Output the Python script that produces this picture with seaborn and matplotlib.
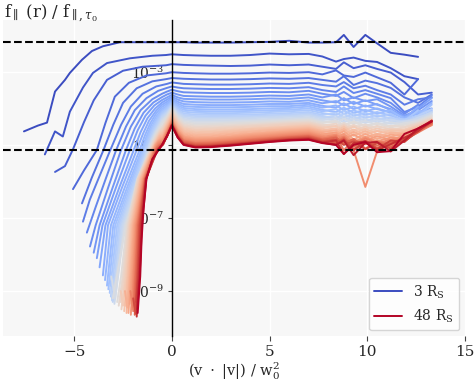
import numpy as np
import pandas as pd
import matplotlib
matplotlib.use('Agg')
import matplotlib.pyplot as plt
from matplotlib.lines import Line2D
from matplotlib.ticker import NullLocator
import seaborn as sns

sns.set_style("whitegrid", {'axes.facecolor': '#f7f7f7', 'grid.color': 'white'})
plt.rcParams['font.family'] = 'serif'
plt.rcParams['font.serif'] = ['DejaVu Serif']
plt.rcParams['mathtext.fontset'] = 'dejavuserif'

nan = np.nan

# radii of the profiles (in R_S)
radii = list(range(3, 49))

# dashed reference levels (log10)
ref_levels = [-2.19, -5.14]

# positive side: shared v|v|/w0^2 grid
pos_x = [0.0, 0.3, 0.6, 1.2, 2.0, 3.0, 4.0, 5.0, 6.0, 7.0, 7.7, 8.4, 8.8, 9.3, 9.9, 10.5, 11.2, 11.9, 12.6, 13.3]

# log10 f on the positive side, one row per radius
pos_logf = [
    [-2.19, -2.19, -2.19, -2.20, -2.20, -2.20, -2.19, -2.18, -2.15, -2.20, -2.20, -2.19, -1.99, -2.32, -1.99, -2.22, -2.48, -2.53, -2.59, nan],
    [-2.52, -2.53, -2.54, -2.55, -2.56, -2.56, -2.54, -2.50, -2.52, -2.51, -2.58, -2.72, -2.65, -2.61, -2.70, -2.73, -2.90, -3.12, -3.20, nan],
    [-2.79, -2.80, -2.81, -2.82, -2.83, -2.84, -2.83, -2.80, -2.82, -2.80, -2.86, -2.92, -2.74, -2.90, -2.82, -2.92, -3.02, -3.28, -3.62, -3.57],
    [-3.01, -3.02, -3.03, -3.04, -3.05, -3.05, -3.04, -3.02, -3.03, -3.01, -3.07, -2.96, -3.10, -3.14, -3.02, -3.15, -3.30, -3.62, -3.20, nan],
    [-3.17, -3.18, -3.19, -3.20, -3.21, -3.21, -3.20, -3.18, -3.19, -3.17, -3.22, -3.27, -3.12, -3.36, -3.24, -3.31, -3.44, -3.70, -3.85, -3.62],
    [-3.29, -3.31, -3.33, -3.34, -3.35, -3.35, -3.34, -3.32, -3.33, -3.30, -3.36, -3.40, -3.28, -3.45, -3.38, -3.50, -3.62, -3.90, -3.75, -3.70],
    [-3.40, -3.43, -3.45, -3.46, -3.47, -3.47, -3.46, -3.44, -3.45, -3.42, -3.50, -3.55, -3.40, -3.58, -3.50, -3.60, -3.72, -4.10, -3.95, -3.65],
    [-3.49, -3.53, -3.56, -3.57, -3.58, -3.58, -3.57, -3.55, -3.56, -3.52, -3.60, -3.66, -3.55, -3.72, -3.60, -3.70, -3.85, -4.15, -3.90, nan],
    [-3.57, -3.62, -3.66, -3.67, -3.68, -3.68, -3.67, -3.65, -3.66, -3.62, -3.70, -3.62, -3.78, -3.70, -3.80, -3.75, -3.95, -4.20, -4.05, -3.80],
    [-3.63, -3.70, -3.74, -3.75, -3.76, -3.76, -3.75, -3.73, -3.74, -3.70, -3.78, -3.84, -3.72, -3.88, -3.78, -3.90, -4.02, -4.25, -4.00, -3.72],
    [-3.68, -3.76, -3.81, -3.83, -3.84, -3.84, -3.83, -3.81, -3.82, -3.78, -3.86, -3.80, -3.92, -3.82, -3.95, -3.88, -4.05, -4.22, -4.10, -4.00],
    [-3.72, -3.82, -3.88, -3.90, -3.91, -3.91, -3.90, -3.88, -3.88, -3.85, -3.93, -3.98, -3.86, -4.02, -3.92, -4.02, -4.10, -4.28, -3.95, nan],
    [-3.76, -3.87, -3.94, -3.96, -3.97, -3.97, -3.96, -3.94, -3.94, -3.90, -3.98, -3.92, -4.05, -3.95, -4.08, -4.00, -4.12, -4.25, -4.15, -3.85],
    [-3.80, -3.92, -3.99, -4.02, -4.03, -4.03, -4.02, -4.00, -3.99, -3.95, -4.04, -4.10, -3.98, -4.12, -4.04, -4.14, -4.05, -4.30, -4.10, -4.05],
    [-3.83, -3.96, -4.04, -4.07, -4.08, -4.08, -4.07, -4.05, -4.04, -4.00, -4.08, -4.02, -4.15, -4.05, -4.18, -4.10, -4.20, -4.32, -4.20, -3.90],
    [-3.86, -4.00, -4.09, -4.12, -4.13, -4.13, -4.12, -4.10, -4.08, -4.05, -4.13, -4.18, -4.06, -4.20, -4.12, -4.22, -4.15, -4.35, -4.05, nan],
    [-3.89, -4.04, -4.14, -4.17, -4.18, -4.18, -4.17, -4.15, -4.13, -4.10, -4.18, -4.12, -4.24, -4.14, -4.26, -4.18, -4.28, -4.30, -4.22, -4.08],
    [-3.91, -4.07, -4.18, -4.21, -4.22, -4.22, -4.21, -4.19, -4.17, -4.14, -4.22, -4.27, -4.15, -4.28, -4.20, -4.30, -4.24, -4.38, -4.20, -4.02],
    [-3.93, -4.11, -4.21, -4.25, -4.26, -4.25, -4.24, -4.22, -4.20, -4.17, -4.25, -4.20, -4.32, -4.22, -4.34, -4.26, -4.35, -4.34, -4.28, -4.10],
    [-3.95, -4.14, -4.25, -4.29, -4.29, -4.28, -4.27, -4.25, -4.23, -4.20, -4.28, -4.33, -4.22, -4.36, -4.28, -4.38, -4.30, -4.40, -4.25, -4.12],
    [-3.97, -4.17, -4.29, -4.33, -4.33, -4.32, -4.31, -4.29, -4.27, -4.24, -4.32, -4.26, -4.38, -4.28, -4.40, -4.32, -4.42, -4.36, -4.30, -4.15],
    [-3.99, -4.20, -4.32, -4.37, -4.37, -4.36, -4.34, -4.32, -4.30, -4.27, -4.35, -4.40, -4.28, -4.42, -4.34, -4.45, -4.38, -4.44, -4.32, -4.18],
    [-4.01, -4.23, -4.36, -4.41, -4.41, -4.39, -4.37, -4.35, -4.33, -4.30, -4.38, -4.33, -4.45, -4.35, -4.47, -4.40, -4.48, -4.40, -4.35, -4.20],
    [-4.03, -4.26, -4.40, -4.45, -4.44, -4.42, -4.40, -4.38, -4.35, -4.32, -4.40, -4.36, -4.48, -4.38, -4.50, -4.42, -4.52, -4.45, -4.38, -4.22],
    [-4.06, -4.30, -4.44, -4.49, -4.48, -4.46, -4.44, -4.41, -4.38, -4.36, -4.44, -4.50, -4.40, -4.52, -4.44, -4.55, -4.48, -4.50, -4.40, -4.25],
    [-4.09, -4.33, -4.48, -4.53, -4.52, -4.50, -4.47, -4.44, -4.41, -4.39, -4.47, -4.42, -4.55, -4.45, -4.58, -4.48, -4.58, -4.52, -4.42, -4.28],
    [-4.12, -4.37, -4.52, -4.57, -4.56, -4.53, -4.50, -4.47, -4.44, -4.42, -4.50, -4.56, -4.45, -4.60, -4.50, -4.62, -4.55, -4.58, -4.45, -4.30],
    [-4.15, -4.40, -4.55, -4.61, -4.60, -4.57, -4.54, -4.51, -4.48, -4.45, -4.53, -4.48, -4.62, -4.50, -4.65, -4.55, -4.64, -4.58, -4.48, -4.32],
    [-4.18, -4.44, -4.59, -4.65, -4.64, -4.61, -4.57, -4.54, -4.51, -4.48, -4.56, -4.62, -4.50, -4.68, -4.56, -4.70, -4.60, -4.62, -4.50, -4.34],
    [-4.21, -4.47, -4.63, -4.69, -4.68, -4.64, -4.61, -4.57, -4.54, -4.51, -4.60, -4.55, -4.70, -4.58, -4.72, -4.62, -4.70, -4.64, -4.52, -4.36],
    [-4.24, -4.51, -4.67, -4.73, -4.72, -4.68, -4.64, -4.60, -4.57, -4.54, -4.62, -4.68, -4.56, -4.75, -4.62, -4.78, -4.66, -4.70, -4.55, -4.38],
    [-4.27, -4.55, -4.71, -4.77, -4.76, -4.72, -4.68, -4.64, -4.60, -4.57, -4.65, -4.60, -4.78, -4.64, -4.80, -4.70, -4.78, -4.68, -4.56, -4.40],
    [-4.31, -4.59, -4.75, -4.81, -4.80, -4.76, -4.71, -4.67, -4.63, -4.60, -4.68, -4.74, -4.62, -4.85, -4.70, -4.84, -4.72, -4.76, -4.58, -4.42],
    [-4.32, -4.61, -4.78, -4.84, -4.83, -4.79, -4.74, -4.70, -4.66, -4.63, -4.72, -4.66, -4.84, -4.72, -4.88, -4.76, -4.86, -4.74, -4.60, -4.44],
    [-4.34, -4.63, -4.81, -4.87, -4.86, -4.82, -4.77, -4.73, -4.69, -4.66, -4.75, -4.80, -4.70, -4.92, -4.78, -4.90, -4.80, -4.82, -4.62, -4.46],
    [-4.36, -4.66, -4.84, -4.90, -4.89, -4.85, -4.80, -4.76, -4.72, -4.69, -4.78, -4.72, -4.88, -5.15, -6.15, -5.18, -4.94, -4.80, -4.64, -4.40],
    [-4.39, -4.69, -4.87, -4.93, -4.92, -4.88, -4.83, -4.79, -4.75, -4.72, -4.80, -4.86, -4.76, -4.98, -4.82, -4.95, -4.86, -4.85, -4.66, -4.45],
    [-4.40, -4.70, -4.88, -4.95, -4.94, -4.90, -4.85, -4.81, -4.77, -4.74, -4.83, -4.76, -5.15, -4.85, -4.98, -4.90, -5.00, -4.82, -4.62, -4.42],
    [-4.42, -4.72, -4.90, -4.97, -4.96, -4.92, -4.87, -4.83, -4.79, -4.76, -4.85, -4.92, -4.80, -5.05, -4.88, -5.02, -4.90, -4.88, -4.65, -4.38],
    [-4.43, -4.74, -4.92, -4.99, -4.98, -4.94, -4.89, -4.85, -4.80, -4.77, -4.86, -4.80, -4.95, -4.84, -5.10, -4.92, -5.05, -4.86, -4.60, -4.40],
    [-4.44, -4.75, -4.94, -5.01, -5.00, -4.96, -4.91, -4.86, -4.82, -4.79, -4.88, -4.94, -4.84, -5.12, -4.90, -5.08, -4.95, -4.90, -4.62, -4.36],
    [-4.45, -4.77, -4.96, -5.03, -5.02, -4.98, -4.93, -4.88, -4.84, -4.81, -4.90, -4.85, -5.00, -4.90, -5.12, -4.95, -5.10, -4.85, -4.58, -4.35],
    [-4.46, -4.78, -4.97, -5.04, -5.03, -4.99, -4.94, -4.89, -4.85, -4.82, -4.92, -4.98, -4.86, -5.15, -4.92, -5.12, -4.88, -4.92, -4.60, -4.33],
    [-4.46, -4.78, -4.98, -5.05, -5.04, -5.00, -4.95, -4.90, -4.86, -4.84, -4.93, -4.88, -5.25, -4.95, -4.90, -5.15, -4.98, -4.80, -4.62, -4.35],
    [-4.47, -4.79, -4.99, -5.06, -5.05, -5.01, -4.96, -4.91, -4.87, -4.85, -4.94, -5.00, -4.88, -5.28, -4.94, -4.92, -5.18, -4.88, -4.55, -4.34],
    [-4.47, -4.80, -5.00, -5.07, -5.06, -5.02, -4.97, -4.92, -4.88, -4.86, -4.95, -5.00, -5.25, -5.00, -4.92, -5.20, -5.17, -4.70, -4.55, -4.36],
]

# negative side: x knots per radius (left to right, x < 0)
neg_x = [
    [-7.57, -6.85, -6.39, -5.98, -5.47, -5.22, -4.6, -4.09, -3.53, -2.66, -1.5, -0.5],
    [-6.5, -5.98, -5.58, -5.22, -4.55, -4.04, -3.32, -2.15, -1.0, -0.3],
    [-5.98, -5.47, -5.06, -4.5, -4.0, -3.32, -2.5, -1.5, -0.3],
    [-5.06, -4.5, -3.84, -3.4, -2.92, -2.2, -1.3, -0.3],
    [-4.6, -4.1, -3.5, -3.0, -2.5, -1.8, -1.0, -0.3],
    [-4.55, -4.2, -3.7, -3.15, -2.6, -2.1, -1.5, -0.8, -0.25],
    [-4.35, -3.9, -3.4, -2.85, -2.35, -1.9, -1.3, -0.7, -0.25],
    [-4.19, -3.9, -3.25, -2.6, -2.1, -1.6, -1.0, -0.5, -0.25],
    [-4.0, -3.7, -3.02, -2.35, -1.9, -1.45, -0.95, -0.5, -0.25],
    [-3.84, -3.55, -2.85, -2.15, -1.75, -1.35, -0.9, -0.5, -0.25],
    [-3.7, -3.4, -2.68, -1.95, -1.6, -1.25, -0.85, -0.5, -0.25],
    [-3.53, -3.27, -2.54, -1.8, -1.48, -1.17, -0.8, -0.5, -0.25],
    [-3.42, -3.12, -2.4, -1.65, -1.38, -1.1, -0.78, -0.5, -0.25],
    [-3.32, -3.0, -2.28, -1.55, -1.3, -1.05, -0.75, -0.5, -0.25],
    [-3.25, -2.9, -2.19, -1.48, -1.25, -1.0, -0.72, -0.5, -0.25],
    [-3.18, -2.8, -2.11, -1.42, -1.2, -0.97, -0.7, -0.5, -0.25],
    [-3.12, -2.72, -2.04, -1.36, -1.15, -0.94, -0.68, -0.5, -0.25],
    [-3.06, -2.65, -1.97, -1.3, -1.1, -0.9, -0.66, -0.5, -0.25],
    [-3.15, -3.02, -2.58, -1.92, -1.27, -1.07, -0.88, -0.65, -0.5, -0.25],
    [-2.98, -2.52, -1.86, -1.24, -1.05, -0.86, -0.64, -0.5, -0.25],
    [-2.94, -2.46, -1.8, -1.21, -1.03, -0.85, -0.63, -0.5, -0.25],
    [-3.1, -2.9, -2.41, -1.76, -1.18, -1.0, -0.83, -0.62, -0.5, -0.25],
    [-3.02, -2.36, -1.72, -1.15, -0.98, -0.82, -0.62, -0.5, -0.25],
    [-2.8, -2.6, -2.31, -1.77, -1.12, -0.96, -0.8, -0.62, -0.45, -0.25],
    [-2.72, -2.52, -2.26, -1.74, -1.1, -0.94, -0.78, -0.6, -0.45, -0.25],
    [-2.64, -2.46, -2.22, -1.72, -1.08, -0.92, -0.77, -0.6, -0.45, -0.25],
    [-2.58, -2.4, -2.18, -1.7, -1.06, -0.9, -0.75, -0.6, -0.45, -0.25],
    [-2.62, -2.5, -2.34, -2.14, -1.66, -1.04, -0.88, -0.74, -0.6, -0.45, -0.25],
    [-2.44, -2.28, -2.1, -1.62, -1.02, -0.87, -0.73, -0.6, -0.45, -0.25],
    [-2.38, -2.24, -2.06, -1.6, -1.0, -0.86, -0.72, -0.6, -0.45, -0.25],
    [-2.32, -2.19, -2.02, -1.57, -0.98, -0.85, -0.71, -0.6, -0.45, -0.25],
    [-2.4, -2.28, -2.14, -1.98, -1.54, -0.96, -0.84, -0.7, -0.58, -0.45, -0.25],
    [-2.22, -2.1, -1.94, -1.5, -0.94, -0.83, -0.7, -0.58, -0.45, -0.25],
    [-2.16, -2.05, -1.9, -1.48, -0.92, -0.82, -0.7, -0.58, -0.45, -0.25],
    [-2.1, -2.0, -1.86, -1.45, -0.9, -0.8, -0.7, -0.58, -0.45, -0.25],
    [-2.05, -1.96, -1.82, -1.43, -0.88, -0.78, -0.68, -0.58, -0.45, -0.25],
    [-2.12, -2.0, -1.92, -1.79, -1.41, -0.86, -0.77, -0.67, -0.57, -0.45, -0.25],
    [-1.98, -1.88, -1.76, -1.39, -0.84, -0.76, -0.66, -0.56, -0.45, -0.25],
    [-1.94, -1.85, -1.73, -1.37, -0.82, -0.74, -0.65, -0.55, -0.45, -0.25],
    [-1.9, -1.81, -1.7, -1.36, -0.8, -0.72, -0.64, -0.54, -0.45, -0.25],
    [-1.87, -1.78, -1.67, -1.35, -0.78, -0.7, -0.62, -0.53, -0.45, -0.25],
    [-1.98, -1.85, -1.75, -1.64, -1.34, -0.76, -0.5, -0.25],
    [-1.82, -1.72, -1.6, -1.33, -0.74, -0.5, -0.25],
    [-1.8, -1.69, -1.57, -1.32, -1.0, -0.72, -0.5, -0.25],
    [-1.77, -1.65, -1.53, -1.31, -1.0, -0.7, -0.5, -0.25],
    [-1.75, -1.62, -1.55, -1.45, -1.3, -1.0, -0.68, -0.5, -0.25],
]

# log10 f at the negative-side knots
neg_logf = [
    [-4.63, -4.47, -4.39, -3.54, -3.22, -3.03, -2.67, -2.43, -2.30, -2.19, -2.19, -2.19],
    [-5.26, -4.63, -4.77, -4.09, -3.43, -3.03, -2.76, -2.63, -2.56, -2.54],
    [-5.74, -5.58, -5.12, -4.38, -3.78, -3.22, -2.97, -2.86, -2.82],
    [-6.21, -5.7, -5.14, -4.4, -3.68, -3.3, -3.1, -3.04],
    [-6.6, -5.9, -5.14, -4.45, -3.85, -3.45, -3.26, -3.2],
    [-7.1, -6.5, -5.85, -5.14, -4.45, -3.95, -3.6, -3.4, -3.33],
    [-7.4, -6.7, -5.95, -5.14, -4.5, -4.05, -3.72, -3.52, -3.44],
    [-7.78, -7.2, -6.15, -5.14, -4.5, -4.05, -3.75, -3.6, -3.54],
    [-7.95, -7.2, -6.15, -5.14, -4.55, -4.12, -3.84, -3.69, -3.62],
    [-8.1, -7.2, -6.15, -5.14, -4.6, -4.2, -3.92, -3.77, -3.70],
    [-8.35, -7.2, -6.15, -5.14, -4.65, -4.27, -4.0, -3.84, -3.76],
    [-8.57, -7.2, -6.15, -5.14, -4.7, -4.34, -4.06, -3.9, -3.82],
    [-8.7, -7.2, -6.15, -5.14, -4.74, -4.4, -4.12, -3.96, -3.87],
    [-8.85, -7.2, -6.15, -5.14, -4.77, -4.45, -4.18, -4.02, -3.92],
    [-8.95, -7.2, -6.15, -5.14, -4.79, -4.49, -4.23, -4.07, -3.96],
    [-9.05, -7.2, -6.15, -5.14, -4.81, -4.52, -4.27, -4.11, -4.0],
    [-9.15, -7.2, -6.15, -5.14, -4.83, -4.56, -4.31, -4.16, -4.04],
    [-9.25, -7.2, -6.15, -5.14, -4.85, -4.59, -4.35, -4.2, -4.08],
    [-8.9, -9.3, -7.2, -6.15, -5.14, -4.86, -4.62, -4.39, -4.24, -4.11],
    [-9.1, -7.2, -6.15, -5.14, -4.87, -4.64, -4.42, -4.28, -4.14],
    [-9.35, -7.2, -6.15, -5.14, -4.88, -4.66, -4.45, -4.32, -4.17],
    [-8.6, -9.2, -7.2, -6.15, -5.14, -4.89, -4.68, -4.48, -4.36, -4.2],
    [-9.2, -7.2, -6.15, -5.14, -4.9, -4.7, -4.51, -4.4, -4.23],
    [-9.3, -8.6, -7.2, -5.93, -5.14, -4.91, -4.72, -4.55, -4.45, -4.26],
    [-9.4, -8.6, -7.2, -5.93, -5.14, -4.92, -4.74, -4.58, -4.49, -4.3],
    [-9.3, -8.6, -7.2, -5.93, -5.14, -4.93, -4.76, -4.61, -4.53, -4.33],
    [-9.5, -8.6, -7.2, -5.93, -5.14, -4.94, -4.78, -4.64, -4.57, -4.37],
    [-9.0, -9.4, -8.6, -7.2, -5.93, -5.14, -4.95, -4.8, -4.67, -4.61, -4.4],
    [-9.55, -8.6, -7.2, -5.93, -5.14, -4.96, -4.82, -4.7, -4.65, -4.44],
    [-9.4, -8.6, -7.2, -5.93, -5.14, -4.97, -4.84, -4.73, -4.69, -4.47],
    [-9.6, -8.6, -7.2, -5.93, -5.14, -4.98, -4.86, -4.76, -4.73, -4.51],
    [-9.0, -9.45, -8.6, -7.2, -5.93, -5.14, -4.99, -4.88, -4.8, -4.76, -4.54],
    [-9.6, -8.6, -7.2, -5.93, -5.14, -5.0, -4.9, -4.83, -4.8, -4.58],
    [-9.35, -8.6, -7.2, -5.93, -5.14, -5.01, -4.92, -4.86, -4.83, -4.6],
    [-9.65, -8.6, -7.2, -5.93, -5.14, -5.02, -4.94, -4.89, -4.86, -4.63],
    [-9.5, -8.6, -7.2, -5.93, -5.14, -5.04, -4.96, -4.92, -4.89, -4.66],
    [-9.0, -9.45, -8.6, -7.2, -5.93, -5.14, -5.06, -4.99, -4.95, -4.92, -4.69],
    [-9.55, -8.6, -7.2, -5.93, -5.14, -5.07, -5.01, -4.97, -4.94, -4.7],
    [-9.4, -8.6, -7.2, -5.93, -5.14, -5.08, -5.03, -4.99, -4.96, -4.72],
    [-9.65, -8.6, -7.2, -5.93, -5.14, -5.09, -5.04, -5.0, -4.98, -4.74],
    [-9.45, -8.6, -7.2, -5.93, -5.14, -5.1, -5.06, -5.02, -5.0, -4.75],
    [-9.2, -9.62, -8.6, -7.2, -5.93, -5.14, -5.0, -4.77],
    [-9.3, -8.6, -7.2, -5.93, -5.14, -5.0, -4.77],
    [-9.7, -8.6, -7.2, -5.93, -5.42, -5.14, -5.0, -4.77],
    [-9.5, -8.6, -7.2, -5.93, -5.4, -5.14, -5.0, -4.76],
    [-9.6, -8.6, -7.6, -6.75, -5.93, -5.39, -5.14, -5.0, -4.75],
]

# long table for seaborn
rows = []
for i, r in enumerate(radii):
    xs = neg_x[i] + pos_x
    ls = neg_logf[i] + pos_logf[i]
    for j, (xv, lv) in enumerate(zip(xs, ls)):
        if not np.isnan(lv):
            rows.append({'r': r, 'order': j, 'x': xv, 'f': 10 ** lv})
df = pd.DataFrame(rows)

fig = plt.figure(figsize=(4.74, 3.84), dpi=100)
ax = fig.add_axes([0.006, 0.125, 0.975, 0.824])
ax.set_yscale('log')

sns.lineplot(data=df, x='x', y='f', hue='r', palette='coolwarm', units='r',
             estimator=None, sort=False, lw=1.4, legend=False, ax=ax)

for lev in ref_levels:
    ax.axhline(10 ** lev, color='black', ls='--', lw=1.5, zorder=4)

ax.set_xlim(-8.65, 15)
ax.set_ylim(10 ** -10.23, 10 ** -1.57)
ax.set_xticks([-5, 0, 5, 10, 15])
ax.set_yticks([1e-9, 1e-7, 1e-5, 1e-3])
ax.yaxis.set_minor_locator(NullLocator())
ax.set_axisbelow(True)

ax.spines['left'].set_position(('data', 0))
ax.spines['left'].set_color('black')
ax.spines['left'].set_linewidth(1.0)
for s in ['right', 'top', 'bottom']:
    ax.spines[s].set_visible(False)
ax.tick_params(axis='y', which='major', left=True, length=3, width=0.8,
               color='#444444', labelsize=10, pad=2)
ax.tick_params(axis='x', which='major', bottom=True, length=3.5, width=0.8,
               color='#444444', labelsize=11, pad=3)
ax.grid(True, color='white', lw=1.0)

ax.set_xlabel(r'$\mathrm{(v\ \cdot\ |v|)\ /\ w_0^2}$', fontsize=10.5, labelpad=1)
ax.set_ylabel('')
fig.text(0.008, 0.963, r'$\mathrm{f}_{\parallel}\ \mathrm{(r)}\ /\ \mathrm{f}_{\parallel,\tau_0}$',
         fontsize=12, ha='left', va='center')

cmap = plt.get_cmap('coolwarm')
handles = [Line2D([0], [0], color=cmap(0.0), lw=1.4),
           Line2D([0], [0], color=cmap(1.0), lw=1.4)]
leg = ax.legend(handles, [r'3 $\mathrm{R_S}$', r'48 $\mathrm{R_S}$'], loc='lower right',
                fontsize=10, frameon=True, borderaxespad=0.4)
leg.get_frame().set_facecolor('white')
leg.get_frame().set_edgecolor('#cccccc')
leg.set_zorder(5)

fig.savefig('out.png', dpi=100)
